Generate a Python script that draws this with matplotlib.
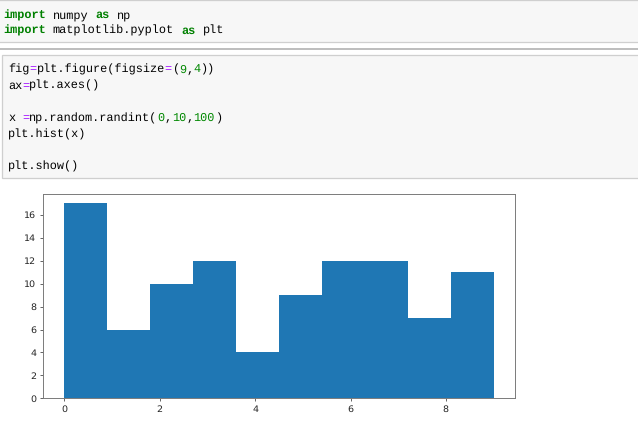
import numpy as np
import matplotlib
matplotlib.use("Agg")
import matplotlib.pyplot as plt
from matplotlib.patches import Rectangle
from matplotlib.lines import Line2D

plt.rcParams["text.hinting"] = "no_hinting"

# ---- data ----
bin_edges = np.linspace(0, 9, 11)
bin_counts = [17, 6, 10, 12, 4, 9, 12, 12, 7, 11]
x_ticks = [0, 2, 4, 6, 8]
y_ticks = [0, 2, 4, 6, 8, 10, 12, 14, 16]

# code cell text: tokens (text, kind)
cell1_lines = [
    [("import", "kw"), (" numpy ", "n"), ("as", "kw"), (" np", "n")],
    [("import", "kw"), (" matplotlib.pyplot ", "n"), ("as", "kw"), (" plt", "n")],
]
cell2_lines = [
    [("fig", "n"), ("=", "op"), ("plt.figure(figsize", "n"), ("=", "op"), ("(", "n"),
     ("9", "num"), (",", "n"), ("4", "num"), ("))", "n")],
    [("ax", "n"), ("=", "op"), ("plt.axes()", "n")],
    [],
    [("x ", "n"), ("=", "op"), ("np.random.randint(", "n"), ("0", "num"), (",", "n"),
     ("10", "num"), (",", "n"), ("100", "num"), (")", "n")],
    [("plt.hist(x)", "n")],
    [],
    [("plt.show()", "n")],
]

W, H = 638, 423
fig = plt.figure(figsize=(W / 100, H / 100), dpi=100)
fig.patch.set_facecolor("white")

# background "page" axes in pixel coords
bg = fig.add_axes([0, 0, 1, 1], zorder=0)
bg.set_xlim(0, W)
bg.set_ylim(H, 0)
bg.axis("off")

cell_face = "#f7f7f7"
cell_edge = "#cfcfcf"
bg.add_patch(Rectangle((-2, 0.5), W + 4, 42.0, facecolor=cell_face, edgecolor=cell_edge, lw=0.9))
bg.add_line(Line2D([0, W], [49.3, 49.3], color="#ababab", lw=1.1))
bg.add_patch(Rectangle((1.5, 55.3), W + 4, 122.4, facecolor=cell_face, edgecolor=cell_edge, lw=0.9))

styles = {
    "kw": dict(color="#008000", fontweight="bold"),
    "n": dict(color="#000000"),
    "op": dict(color="#AA22FF"),
    "num": dict(color="#008800"),
}
mono = ["Liberation Mono", "DejaVu Sans Mono"]
fs = 8.55
charw = 0.6 * fs * 100 / 72


def draw_lines(lines, x0, baselines):
    for toks, yb in zip(lines, baselines):
        i = 0
        for text, kind in toks:
            stripped = text.lstrip(" ")
            lead = len(text) - len(stripped)
            if stripped.strip():
                bg.text(x0 + (i + lead) * charw, yb, stripped.rstrip(" "), fontsize=fs,
                        family=mono, va="baseline", ha="left", **styles[kind])
            i += len(text)


draw_lines(cell1_lines, 3, [18.3, 33.8])
draw_lines(cell2_lines, 8, [72.5 + 16.2 * j for j in range(7)])

# ---- chart ----
ax = fig.add_axes([43 / W, 1 - 398.3 / H, 472 / W, 204.6 / H], zorder=1)
ax.hist(bin_edges[:-1], bins=bin_edges, weights=bin_counts, color="#1f77b4")
ax.set_xticks(x_ticks)
ax.set_yticks(y_ticks)
ax.tick_params(labelsize=10 * 0.68, length=3.5 * 0.67, width=0.8 * 0.67,
               pad=3.5 * 0.67, colors="#333333", labelcolor="#262626")
for sp in ax.spines.values():
    sp.set_color("#7a7a7a")
    sp.set_linewidth(0.7)

fig.savefig("out.png", dpi=100)
